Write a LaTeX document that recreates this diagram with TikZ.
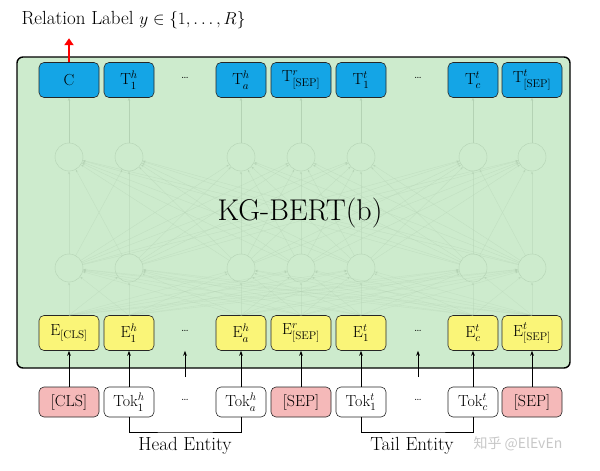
\documentclass[tikz,border=0pt]{standalone}
\usepackage{fontspec}
\newfontfamily\cjk{Noto Sans CJK SC}
\usetikzlibrary{arrows.meta}
\definecolor{tblue}{RGB}{20,165,230}
\definecolor{eyel}{RGB}{250,245,120}
\definecolor{tpink}{RGB}{245,185,185}
\definecolor{bgreen}{RGB}{205,235,205}
\definecolor{faint}{RGB}{180,210,180}
\tikzset{
 bx/.style={draw=black!85,line width=0.6pt,rounded corners=5pt,minimum height=35pt,inner sep=1pt,font=\fontsize{16}{18}\selectfont},
 tbox/.style={bx,fill=tblue},
 ebox/.style={bx,fill=eyel},
 kbox/.style={bx,minimum height=30pt,fill=white},
 pbox/.style={kbox,fill=tpink},
 neur/.style={circle,draw=faint,minimum size=28pt,inner sep=0pt},
 fl/.style={draw=faint,line width=0.4pt,-{Stealth[length=3pt]}},
 ar/.style={draw=black,line width=0.9pt,-{Stealth[length=5pt]}},
 lbl/.style={font=\fontsize{19}{22}\selectfont},
 dt/.style={font=\fontsize{12}{14}\selectfont}
}
\begin{document}
\begin{tikzpicture}[x=1pt,y=-1pt]
\useasboundingbox (0,0) rectangle (600,471);
\node[draw=black,line width=1.4pt,fill=bgreen,rounded corners=6pt,minimum width=553pt,minimum height=311pt,inner sep=0pt] (frame) at (293.5,212.5) {};
\node[lbl,anchor=west] (rel) at (18,20) {Relation Label $y\in\{1,\ldots,R\}$};
\foreach \n/\x in {1/69,2/129,4/241,5/301,6/361,8/473,9/532}{
  \node[neur] (u\n) at (\x,157) {};
  \node[neur] (l\n) at (\x,268) {};
}
\foreach \a in {1,2,4,5,6,8,9}{
  \foreach \b in {1,2,4,5,6,8,9}{
    \draw[fl,draw opacity=0.45] (l\a) -- (u\b);
  }}
\node[font=\fontsize{30}{34}\selectfont] (kg) at (300,213) {KG-BERT(b)};
\node[tbox,minimum width=60pt] (t1) at (69,80) {C};
\node[tbox,minimum width=50pt] (t2) at (129,80) {T$_1^h$};
\node[tbox,minimum width=50pt] (t4) at (241,80) {T$_a^h$};
\node[tbox,minimum width=60pt] (t5) at (301,80) {T$^r_{\mathrm{[SEP]}}$};
\node[tbox,minimum width=50pt] (t6) at (361,80) {T$_1^t$};
\node[tbox,minimum width=50pt] (t8) at (473,80) {T$_c^t$};
\node[tbox,minimum width=60pt] (t9) at (532,80) {T$^t_{\mathrm{[SEP]}}$};
\node[dt] (td1) at (185,78) {\ldots};
\node[dt] (td2) at (418,78) {\ldots};
\node[ebox,minimum width=60pt] (e1) at (69,333) {E$_{\mathrm{[CLS]}}$};
\node[ebox,minimum width=50pt] (e2) at (129,333) {E$_1^h$};
\node[ebox,minimum width=50pt] (e4) at (241,333) {E$_a^h$};
\node[ebox,minimum width=60pt] (e5) at (301,333) {E$^r_{\mathrm{[SEP]}}$};
\node[ebox,minimum width=50pt] (e6) at (361,333) {E$_1^t$};
\node[ebox,minimum width=50pt] (e8) at (473,333) {E$_c^t$};
\node[ebox,minimum width=60pt] (e9) at (532,333) {E$^t_{\mathrm{[SEP]}}$};
\node[dt] (ed1) at (185,331) {\ldots};
\node[dt] (ed2) at (418,331) {\ldots};
\foreach \a in {1,2,4,5,6,8,9}{
  \draw[fl] (u\a) -- (t\a);
  \foreach \b in {1,2,4,5,6,8,9}{
    \draw[fl,draw opacity=0.4] (e\a.north) -- (l\b);
  }}
\node[pbox,minimum width=60pt] (k1) at (69,402) {[CLS]};
\node[kbox,minimum width=50pt] (k2) at (129,402) {Tok$_1^h$};
\node[kbox,minimum width=50pt] (k4) at (241,402) {Tok$_a^h$};
\node[pbox,minimum width=60pt] (k5) at (301,402) {[SEP]};
\node[kbox,minimum width=50pt] (k6) at (361,402) {Tok$_1^t$};
\node[kbox,minimum width=50pt] (k8) at (473,402) {Tok$_c^t$};
\node[pbox,minimum width=60pt] (k9) at (532,402) {[SEP]};
\node[dt] (kd1) at (185,400) {\ldots};
\node[dt] (kd2) at (418,400) {\ldots};
\foreach \a in {1,2,4,5,6,8,9}{\draw[ar] (k\a) -- (e\a);}
\coordinate (c1) at (185,377); \coordinate (c2) at (418,377);
\draw[ar] (c1) -- (e1.south -| c1);
\draw[ar] (c2) -- (e1.south -| c2);
\draw[red,line width=2.5pt,-{Triangle[length=7pt,width=9pt]}] (t1.north) -- ++(0,-24);
\draw[line width=0.9pt] (k2.south) |- (185,432) -| (k4.south);
\draw[line width=0.9pt] (k6.south) |- (418,432) -| (k8.south);
\node[lbl] (he) at (185,446) {Head Entity};
\node[lbl] (te) at (412,446) {Tail Entity};
\node[font=\cjk\fontsize{14}{16}\selectfont,text=black!22,anchor=west] (wm) at (470,444) {知乎 @ElEvEn};
\end{tikzpicture}
\end{document}
